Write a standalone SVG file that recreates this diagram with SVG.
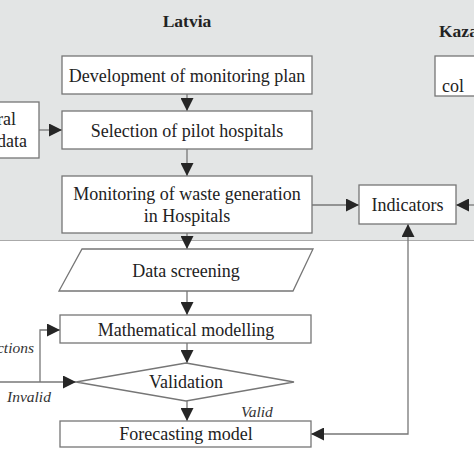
<svg xmlns="http://www.w3.org/2000/svg" width="474" height="474" viewBox="0 0 474 474">
<defs>
<style>
.bg{fill:#e3e5e5}
.box{fill:#ffffff;stroke:#767676;stroke-width:1.3}
.t{font-family:"Liberation Serif","Times New Roman",serif;font-size:18px;fill:#222;text-anchor:middle}
.h{font-family:"Liberation Serif","Times New Roman",serif;font-size:17.5px;font-weight:bold;fill:#222}
.i{font-family:"Liberation Serif","Times New Roman",serif;font-size:15.5px;font-style:italic;fill:#333}
.c{fill:none;stroke:#777;stroke-width:1.3}
</style>
<marker id="ah" markerUnits="userSpaceOnUse" markerWidth="14" markerHeight="13" refX="13" refY="6.5" orient="auto-start-reverse">
<path d="M0,0 L13,6.5 L0,13 z" fill="#262626"/>
</marker>
</defs>
<rect class="bg" x="0" y="0" width="474" height="240"/>
<line x1="0" y1="240.5" x2="474" y2="240.5" stroke="#aaaaaa" stroke-width="1.2"/>
<text class="h" x="187" y="27" text-anchor="middle">Latvia</text>
<text class="h" x="439" y="37">Kaza</text>
<g id="connectors">
<line class="c" x1="187" y1="94" x2="187" y2="111" marker-end="url(#ah)"/>
<line class="c" x1="187" y1="149" x2="187" y2="176" marker-end="url(#ah)"/>
<line class="c" x1="39" y1="130" x2="62" y2="130" marker-end="url(#ah)"/>
<line class="c" x1="312" y1="205" x2="359" y2="205" marker-end="url(#ah)"/>
<line class="c" x1="474" y1="205" x2="456" y2="205" marker-end="url(#ah)"/>
<line class="c" x1="187" y1="233" x2="187" y2="249" marker-end="url(#ah)"/>
<line class="c" x1="187" y1="291" x2="187" y2="315" marker-end="url(#ah)"/>
<line class="c" x1="187" y1="343" x2="187" y2="363" marker-end="url(#ah)"/>
<line class="c" x1="187" y1="401" x2="187" y2="421" marker-end="url(#ah)"/>
<path class="c" d="M311,434 H408 V224" marker-start="url(#ah)" marker-end="url(#ah)"/>
<line class="c" x1="0" y1="382" x2="76" y2="382" marker-end="url(#ah)"/>
<path class="c" d="M40,382 V330 H60" marker-end="url(#ah)"/>
<text class="i" x="34" y="353" text-anchor="end">ctions</text>
<text class="i" x="7" y="402">Invalid</text>
<text class="i" x="241" y="417">Valid</text>
</g>
<g id="kaz-box">
<rect class="box" x="435" y="56" width="50" height="40"/>
<text class="t" x="442" y="92" style="text-anchor:start">col</text>
</g>
<g id="left-box">
<rect class="box" x="-40" y="102" width="79" height="56"/>
<text class="t" x="16" y="125" style="text-anchor:end">ral</text>
<text class="t" x="27" y="147" style="text-anchor:end">data</text>
</g>
<g id="plan">
<rect class="box" x="62" y="56" width="250" height="38"/>
<text class="t" x="187" y="82">Development of monitoring plan</text>
</g>
<g id="selection">
<rect class="box" x="62" y="111" width="250" height="38"/>
<text class="t" x="187" y="137">Selection of pilot hospitals</text>
</g>
<g id="monitoring">
<rect class="box" x="62" y="176" width="250" height="57"/>
<text class="t" x="187" y="200">Monitoring of waste generation</text>
<text class="t" x="187" y="222">in Hospitals</text>
</g>
<g id="indicators">
<rect class="box" x="359" y="185" width="97" height="39"/>
<text class="t" x="407.5" y="211">Indicators</text>
</g>
<g id="screening">
<polygon class="box" points="82,249 313,249 293,291 59,291"/>
<text class="t" x="186" y="277">Data screening</text>
</g>
<g id="math">
<rect class="box" x="60" y="315" width="251" height="28"/>
<text class="t" x="186" y="336">Mathematical modelling</text>
</g>
<g id="validation">
<polygon class="box" points="186,363 294,382 186,401 76,382"/>
<text class="t" x="186" y="388">Validation</text>
</g>
<g id="forecasting">
<rect class="box" x="60" y="421" width="251" height="26"/>
<text class="t" x="186" y="440">Forecasting model</text>
</g>
</svg>
